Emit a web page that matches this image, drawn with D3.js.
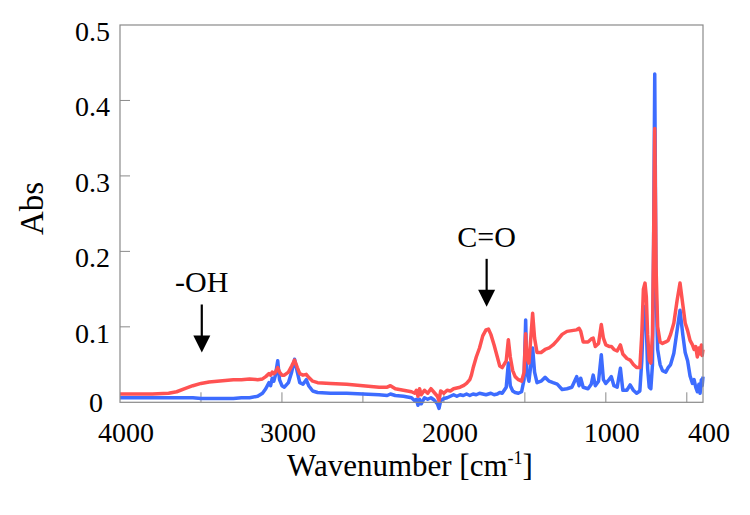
<!DOCTYPE html>
<html><head><meta charset="utf-8">
<script src="https://cdn.jsdelivr.net/npm/d3@7"></script>
<style>
body{margin:0;background:#fff}
svg{display:block;background:#fff}
text{font-family:"Liberation Serif","Times New Roman",serif;fill:#000}
</style>
</head><body>
<svg id="chart" width="750" height="515"></svg>
<script>
// ---- data ----
const wavenumbers = [4000,3900,3800,3700,3650,3600,3550,3500,3450,3400,3350,3300,3250,3200,3150,3120,3100,3080,3070,3060,3050,3040,3026,3015,3000,2985,2960,2940,2922,2905,2890,2870,2850,2835,2810,2780,2700,2600,2500,2400,2350,2330,2300,2250,2200,2180,2170,2160,2150,2140,2120,2100,2080,2060,2040,2030,2020,2000,1980,1960,1940,1920,1900,1880,1860,1840,1830,1820,1800,1780,1760,1740,1725,1710,1690,1670,1655,1640,1615,1602,1590,1575,1560,1540,1520,1505,1495,1488,1475,1460,1452,1440,1425,1400,1375,1350,1326,1300,1270,1240,1210,1180,1165,1155,1140,1110,1090,1078,1065,1045,1028,1015,1000,980,966,950,930,910,895,870,850,830,810,790,778,768,758,750,742,732,722,712,705,698,690,680,665,650,630,615,600,580,560,542,525,510,495,480,465,455,445,435,425,418,410,405,400];
const absOxidized = [0.011,0.011,0.011,0.012,0.014,0.018,0.022,0.025,0.027,0.028,0.029,0.030,0.030,0.031,0.030,0.031,0.034,0.038,0.036,0.040,0.038,0.040,0.046,0.040,0.036,0.036,0.040,0.048,0.056,0.046,0.038,0.036,0.037,0.033,0.028,0.026,0.025,0.024,0.022,0.020,0.020,0.022,0.018,0.016,0.014,0.012,0.016,0.008,0.018,0.010,0.016,0.012,0.018,0.013,0.008,0.002,0.015,0.012,0.016,0.015,0.018,0.019,0.020,0.022,0.025,0.030,0.036,0.045,0.060,0.072,0.088,0.096,0.097,0.090,0.076,0.060,0.048,0.046,0.055,0.083,0.060,0.042,0.034,0.030,0.028,0.040,0.091,0.060,0.052,0.095,0.118,0.085,0.066,0.066,0.070,0.072,0.076,0.082,0.090,0.094,0.095,0.096,0.098,0.094,0.080,0.080,0.084,0.085,0.074,0.078,0.103,0.085,0.076,0.074,0.074,0.070,0.068,0.076,0.064,0.058,0.056,0.050,0.046,0.046,0.090,0.150,0.158,0.140,0.090,0.056,0.052,0.090,0.210,0.363,0.180,0.100,0.080,0.078,0.080,0.082,0.090,0.105,0.135,0.158,0.130,0.105,0.095,0.082,0.076,0.070,0.074,0.060,0.072,0.064,0.076,0.062,0.070];
const absOriginal = [0.006,0.006,0.006,0.006,0.006,0.006,0.006,0.005,0.005,0.005,0.005,0.005,0.006,0.006,0.008,0.012,0.018,0.026,0.022,0.032,0.028,0.036,0.055,0.030,0.022,0.020,0.026,0.040,0.057,0.040,0.026,0.024,0.030,0.022,0.015,0.013,0.012,0.012,0.011,0.010,0.009,0.011,0.009,0.008,0.006,0.002,0.004,-0.004,0.004,-0.002,0.006,0.004,0.006,0.003,-0.002,-0.008,0.002,0.005,0.006,0.008,0.010,0.008,0.010,0.009,0.011,0.009,0.010,0.011,0.010,0.012,0.011,0.010,0.011,0.012,0.010,0.011,0.013,0.012,0.020,0.052,0.022,0.015,0.013,0.012,0.014,0.030,0.109,0.040,0.028,0.055,0.072,0.040,0.026,0.028,0.033,0.028,0.026,0.024,0.017,0.018,0.020,0.034,0.022,0.032,0.020,0.018,0.024,0.036,0.022,0.028,0.063,0.030,0.025,0.030,0.034,0.022,0.020,0.045,0.016,0.016,0.023,0.016,0.012,0.015,0.055,0.115,0.127,0.100,0.045,0.020,0.018,0.050,0.210,0.435,0.150,0.070,0.050,0.042,0.040,0.046,0.050,0.065,0.095,0.122,0.090,0.066,0.055,0.035,0.025,0.030,0.020,0.014,0.024,0.012,0.030,0.022,0.034];
const yTickValues = [0, 0.1, 0.2, 0.3, 0.4, 0.5];
const yTickLabels = ["0", "0.1", "0.2", "0.3", "0.4", "0.5"];
const xTickMarks = [3500, 3000, 2500, 2000, 1500, 1000, 500];
const xTickLabels = [4000, 3000, 2000, 1000, 400];
const annotationLabels = ["-OH", "C=O"];
const annotationWavenumbers = [3495, 1736];
const annotationAbs = [0.066, 0.1265];

// ---- layout ----
const svg = d3.select("#chart");
const L = 120, R = 703, T = 25, B = 402.3;
const x = d3.scaleLinear().domain([4000, 400]).range([L, R]);
const y = d3.scaleLinear().domain([0, 0.5]).range([B, T]);
const frameColor = "#8a8a8a";

svg.append("rect").attr("width", 750).attr("height", 515).attr("fill", "#fff");

// inward tick marks
const gTicks = svg.append("g").attr("stroke", frameColor).attr("stroke-width", 1);
gTicks.selectAll("line.xt").data(xTickMarks).join("line")
  .attr("x1", d => x(d)).attr("x2", d => x(d)).attr("y1", B).attr("y2", B - 10);
gTicks.selectAll("line.yt").data(yTickValues.slice(1, -1)).join("line")
  .attr("x1", L).attr("x2", L + 10).attr("y1", d => y(d)).attr("y2", d => y(d));

// spectra
const clipId = "plotclip";
svg.append("clipPath").attr("id", clipId).append("rect")
  .attr("x", L).attr("y", T).attr("width", R - L + 3).attr("height", B - T + 12);
const lineGen = vals => d3.line()
  .x((d, i) => x(wavenumbers[i]))
  .y(d => y(d))(vals);
const gLines = svg.append("g").attr("clip-path", `url(#${clipId})`);
gLines.append("path").attr("d", lineGen(absOriginal))
  .attr("fill", "none").attr("stroke", "#3d6cff").attr("stroke-width", 3.5)
  .attr("stroke-linejoin", "round");
gLines.append("path").attr("d", lineGen(absOxidized))
  .attr("fill", "none").attr("stroke", "#ff5252").attr("stroke-width", 3.5)
  .attr("stroke-linejoin", "round");

// frame
svg.append("rect").attr("x", L).attr("y", T).attr("width", R - L).attr("height", B - T)
  .attr("fill", "none").attr("stroke", frameColor).attr("stroke-width", 1.2);

// y labels
svg.selectAll("text.yl").data(yTickValues).join("text")
  .attr("class", "yl")
  .attr("x", (d, i) => i === 0 ? 103 : 110)
  .attr("y", (d, i) => i === 0 ? y(d) + 10 : y(d) + 16)
  .attr("text-anchor", "end").attr("font-size", 28)
  .text((d, i) => yTickLabels[i]);

// x labels
svg.selectAll("text.xl").data(xTickLabels).join("text")
  .attr("class", "xl")
  .attr("x", d => x(d) + 6).attr("y", 441.5)
  .attr("text-anchor", "middle").attr("font-size", 28)
  .text(d => d);

// axis titles
const xt = svg.append("text").attr("x", 410).attr("y", 476)
  .attr("text-anchor", "middle").attr("font-size", 31);
xt.append("tspan").text("Wavenumber [cm");
xt.append("tspan").attr("font-size", 18).attr("dy", -12).text("-1");
xt.append("tspan").attr("dy", 12).text("]");

svg.append("text").attr("transform", "translate(43,208.5) rotate(-90)")
  .attr("text-anchor", "middle").attr("font-size", 33).text("Abs");

// annotations
annotationLabels.forEach((lab, i) => {
  const ax = x(annotationWavenumbers[i]);
  const tip = y(annotationAbs[i]);
  svg.append("text").attr("x", ax).attr("y", tip - 60)
    .attr("text-anchor", "middle").attr("font-size", 30).text(lab);
  svg.append("line").attr("x1", ax).attr("x2", ax).attr("y1", tip - 48).attr("y2", tip - 14)
    .attr("stroke", "#000").attr("stroke-width", 2.2);
  svg.append("path")
    .attr("d", `M${ax - 8.5},${tip - 17}L${ax + 8.5},${tip - 17}L${ax},${tip}Z`)
    .attr("fill", "#000");
});
</script>
</body></html>
